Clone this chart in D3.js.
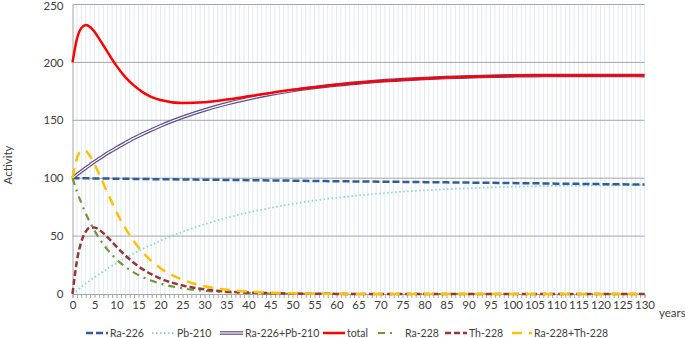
<!DOCTYPE html>
<html>
<head>
<meta charset="utf-8">
<script src="https://cdn.jsdelivr.net/npm/d3@7"></script>
<style>
  body { margin: 0; background: #fff; }
  svg text { font-family: Lato, "Open Sans", sans-serif; fill: #404040; }
</style>
</head>
<body>
<svg id="mainsvg" width="685" height="338"></svg>
<script>
// years sampled (denser where the curves bend)
var years = [0, 1, 2, 3, 4, 5, 6, 7, 8, 9, 10, 12, 14, 16, 18, 20, 25, 30, 35, 40, 45, 50, 55, 60,
  65, 70, 75, 80, 85, 90, 95, 100, 105, 110, 115, 120, 125, 130];

var ra226 = [100, 100, 99.9, 99.9, 99.8, 99.8, 99.7, 99.7, 99.7, 99.6, 99.6, 99.5, 99.4, 99.3, 99.2, 99.1,
  98.9, 98.7, 98.5, 98.3, 98.1, 97.9, 97.6, 97.4, 97.2, 97.0, 96.8, 96.6, 96.4, 96.2, 96.0, 95.8,
  95.6, 95.3, 95.1, 94.9, 94.7, 94.5];
var pb210 = [0, 3.1, 6.0, 8.9, 11.7, 14.4, 17.0, 19.5, 22.0, 24.3, 26.6, 31.0, 35.2, 39.0, 42.6, 46.1,
  53.7, 60.2, 65.7, 70.4, 74.4, 77.8, 80.7, 83.1, 85.1, 86.9, 88.3, 89.5, 90.5, 91.3, 92.0, 92.6,
  93.0, 93.4, 93.6, 93.8, 94.0, 94.1];
var ra226pb210 = [100, 103.1, 105.9, 108.8, 111.5, 114.2, 116.7, 119.2, 121.7, 123.9, 126.2, 130.5, 134.6,
  138.3, 141.8, 145.2, 152.6, 158.9, 164.2, 168.7, 172.5, 175.7, 178.3, 180.5, 182.3, 183.9, 185.1,
  186.1, 186.9, 187.5, 188.0, 188.4, 188.6, 188.7, 188.7, 188.7, 188.7, 188.6];
var total = [200, 220.2, 229.6, 232.2, 230.5, 226.4, 220.8, 214.8, 208.7, 202.6, 197.0, 187.3, 179.9,
  174.1, 170.1, 167.5, 164.9, 165.6, 167.9, 170.7, 173.6, 176.3, 178.6, 180.7, 182.3, 183.9, 185.1,
  186.1, 186.9, 187.5, 188.0, 188.4, 188.6, 188.7, 188.7, 188.7, 188.7, 188.6];
var ra228 = [100, 88.6, 78.6, 69.6, 61.7, 54.7, 48.5, 43.0, 38.1, 33.8, 29.9, 23.5, 18.5, 14.5, 11.4, 9.0,
  4.9, 2.7, 1.5, 0.8, 0.4, 0.2, 0.1, 0.1, 0, 0, 0, 0, 0, 0, 0, 0, 0, 0, 0, 0, 0, 0];
var th228 = [0, 28.5, 45.1, 53.8, 57.3, 57.5, 55.6, 52.6, 48.9, 44.9, 40.9, 33.3, 26.8, 21.3, 16.9, 13.3,
  7.4, 4.0, 2.2, 1.2, 0.7, 0.4, 0.2, 0.1, 0, 0, 0, 0, 0, 0, 0, 0, 0, 0, 0, 0, 0, 0];
var ra228th228 = [100, 117.1, 123.7, 123.4, 119.0, 112.2, 104.1, 95.6, 87.0, 78.7, 70.8, 56.8, 45.3, 35.8,
  28.3, 22.3, 12.3, 6.7, 3.7, 2.0, 1.1, 0.6, 0.3, 0.2, 0, 0, 0, 0, 0, 0, 0, 0, 0, 0, 0, 0, 0, 0];

var seriesNames = ["Ra-226", "Pb-210", "Ra-226+Pb-210", "total", "Ra-228", "Th-228", "Ra-228+Th-228"];
var yTicks = [0, 50, 100, 150, 200, 250];

var styles = {
  "Ra-226": { color: "#2f5d9a", width: 2.5, dash: "7,3" },
  "Pb-210": { color: "#8fd0e6", width: 1.8, dash: "1.5,2.5" },
  "Ra-226+Pb-210": { color: "#5f4b8b", width: 3.6, dash: null, double: true },
  "total": { color: "#ff0000", width: 2.5, dash: null },
  "Ra-228": { color: "#77933c", width: 2.2, dash: "7,5,2,5" },
  "Th-228": { color: "#953735", width: 2.5, dash: "6,3" },
  "Ra-228+Th-228": { color: "#ffc000", width: 2.5, dash: "10,7" }
};
var values = {
  "Ra-226": ra226, "Pb-210": pb210, "Ra-226+Pb-210": ra226pb210, "total": total,
  "Ra-228": ra228, "Th-228": th228, "Ra-228+Th-228": ra228th228
};

var svg = d3.select("#mainsvg");
var x = d3.scaleLinear().domain([0, 130]).range([72.5, 644.5]);
var y = d3.scaleLinear().domain([0, 250]).range([294, 4.5]);

// vertical grid, one line per year
svg.append("g").attr("class", "vgrid")
  .selectAll("line").data(d3.range(1, 131)).enter().append("line")
  .attr("x1", (d) => x(d)).attr("x2", (d) => x(d))
  .attr("y1", y(250)).attr("y2", y(0))
  .attr("stroke", "#e2eaf4").attr("stroke-width", 1);

// horizontal grid
svg.append("g").attr("class", "hgrid")
  .selectAll("line").data(yTicks.slice(1)).enter().append("line")
  .attr("x1", x(0)).attr("x2", x(130))
  .attr("y1", (d) => y(d)).attr("y2", (d) => y(d))
  .attr("stroke", "#a6a6a6").attr("stroke-width", 1);

// y axis
var yAxis = svg.append("g").attr("transform", "translate(" + x(0) + ",0)")
  .call(d3.axisLeft(y).tickValues(yTicks).tickSize(0).tickPadding(9));
yAxis.select(".domain").attr("stroke", "#a6a6a6");
yAxis.selectAll("text").style("font-size", "11.5px").attr("fill", "#404040");
// keep the top label inside the picture
yAxis.selectAll(".tick").filter((d) => d === 250).select("text").attr("dy", "0.42em");

// x axis, minor tick per year, label per 5
var xAxis = svg.append("g").attr("transform", "translate(0," + y(0) + ")")
  .call(d3.axisBottom(x).tickValues(d3.range(0, 131)).tickSize(4).tickPadding(3)
    .tickFormat((d) => (d % 5 === 0 ? d : "")));
xAxis.select(".domain").attr("stroke", "#a6a6a6");
xAxis.selectAll("line").attr("stroke", "#a6a6a6");
xAxis.selectAll("text").style("font-size", "11.5px").attr("fill", "#404040");

// lines
var line = d3.line()
  .x((d) => x(d[0]))
  .y((d) => y(d[1]))
  .curve(d3.curveMonotoneX);

var order = ["Pb-210", "Ra-226", "Ra-226+Pb-210", "Ra-228", "Th-228", "Ra-228+Th-228", "total"];
var layer = svg.append("g").attr("class", "lines");
order.forEach(function (name) {
  var st = styles[name];
  var pts = years.map((t, i) => [t, values[name][i]]);
  layer.append("path")
    .attr("d", line(pts))
    .attr("fill", "none")
    .attr("stroke", st.color)
    .attr("stroke-width", st.width)
    .attr("stroke-dasharray", st.dash);
  if (st.double) {
    layer.append("path")
      .attr("d", line(pts))
      .attr("fill", "none")
      .attr("stroke", "#ffffff")
      .attr("stroke-width", 1.2);
  }
});

// axis titles
svg.append("text")
  .attr("transform", "translate(12,165) rotate(-90)")
  .attr("text-anchor", "middle")
  .style("font-size", "11.5px")
  .text("Activity");
svg.append("text")
  .attr("x", 659).attr("y", 317)
  .style("font-size", "11.5px")
  .text("years");

// legend
var legendX = [86, 152, 220, 323, 378, 445, 512];
var legendLen = [22, 23, 23, 22, 16, 22, 20];
var legend = svg.append("g").attr("class", "legend");
seriesNames.forEach(function (name, i) {
  var st = styles[name];
  var g = legend.append("g").attr("transform", "translate(" + legendX[i] + ",333)");
  g.append("line")
    .attr("x1", 0).attr("x2", legendLen[i]).attr("y1", 0).attr("y2", 0)
    .attr("stroke", st.color)
    .attr("stroke-width", st.width)
    .attr("stroke-dasharray", st.dash);
  if (st.double) {
    g.append("line")
      .attr("x1", 0).attr("x2", legendLen[i]).attr("y1", 0).attr("y2", 0)
      .attr("stroke", "#fff").attr("stroke-width", 1.2);
  }
  g.append("text")
    .attr("x", legendLen[i] + (name === "Ra-228" ? 11 : 2)).attr("y", 4)
    .style("font-size", "10.5px")
    .text(name);
});
</script>
</body>
</html>
